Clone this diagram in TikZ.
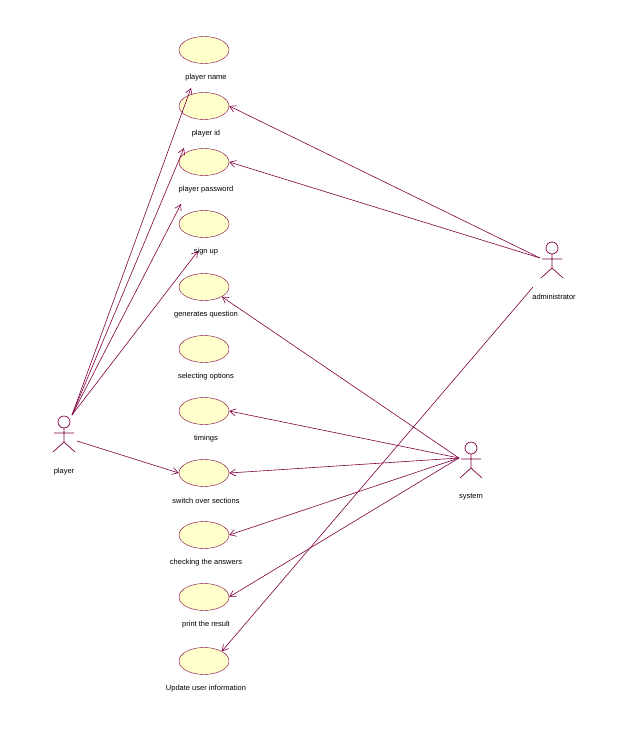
\documentclass[tikz,border=0pt]{standalone}
\usepackage{fontspec}
\setmainfont{Liberation Sans}
\usetikzlibrary{arrows.meta,shapes.geometric}
\definecolor{umlline}{HTML}{800040}
\definecolor{ucfill}{HTML}{FFFFCC}
\begin{document}
\begin{tikzpicture}[x=1pt,y=-1pt,
  uc/.style={draw=umlline,fill=ucfill,ellipse,minimum width=50pt,minimum height=27pt,inner sep=0pt},
  lbl/.style={font=\fontsize{7.5}{9}\selectfont,inner sep=0pt},
  assoc/.style={draw=umlline,line width=0.6pt,-{Straight Barb[length=6pt,width=7pt]}},
  actorline/.style={draw=umlline,line width=0.7pt}]
\useasboundingbox (0,0) rectangle (620,745);
\foreach \n/\y/\t in {a/50/player name,b/106/player id,c/162/player password,d/224/sign up,e/287/generates question,f/349/selecting options,g/411/timings,h/473/switch over sections,i/535/checking the answers,j/597/print the result,k/661/Update user information}{
  \node[uc] (\n) at (204,\y) {};
  \node[lbl] (\n l) at (206,\y+28) {\t};
}
% actors
\newcommand{\actor}[3]{%
  \draw[actorline] (#1,#2) circle (6);
  \draw[actorline] (#1,#2+6) -- (#1,#2+20) (#1-10,#2+11) -- (#1+10,#2+11)
    (#1-11,#2+30) -- (#1,#2+20) -- (#1+11,#2+30);
}
\actor{64}{422}{}
\node[lbl] (pl) at (64,472) {player};
\actor{552}{248}{}
\node[lbl] (adl) at (554,297) {administrator};
\actor{471}{448}{}
\node[lbl] (syl) at (471,497) {system};
\coordinate (p1) at (72,415);
\coordinate (p2) at (77,441);
\coordinate (ad1) at (540,258);
\coordinate (ad2) at (533,287);
\coordinate (s1) at (459,458);
% player
\draw[assoc] (p1) -- (191,88);
\draw[assoc] (p1) -- (184,148);
\draw[assoc] (p1) -- (181,204);
\draw[assoc] (p1) -- (198,251);
\draw[assoc] (p2) -- (h.west);
% admin
\draw[assoc] (ad1) -- (b.east);
\draw[assoc] (ad1) -- (c.east);
\draw[assoc] (ad2) -- (k.north east);
% system
\draw[assoc] (s1) -- (e.south east);
\draw[assoc] (s1) -- (g.east);
\draw[assoc] (s1) -- (h.east);
\draw[assoc] (s1) -- (i.east);
\draw[assoc] (s1) -- (j.east);
\end{tikzpicture}
\end{document}
